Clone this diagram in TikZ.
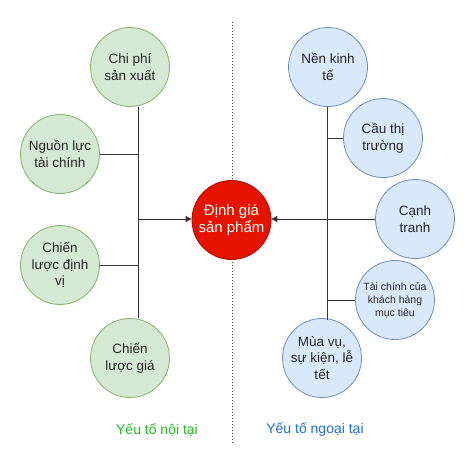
\documentclass[tikz,border=0pt]{standalone}
\usepackage{fontspec}
\setmainfont{Liberation Sans}
\usetikzlibrary{arrows.meta}
\definecolor{gfill}{HTML}{D5E8D4}
\definecolor{gdraw}{HTML}{82B366}
\definecolor{bfill}{HTML}{DAE8FC}
\definecolor{bdraw}{HTML}{6C8EBF}
\definecolor{rfill}{HTML}{E51400}
\definecolor{rdraw}{HTML}{B20000}
\definecolor{gtext}{HTML}{22BB22}
\definecolor{btext}{HTML}{1F6FCC}
\definecolor{lcol}{HTML}{333333}
\begin{document}
\begin{tikzpicture}[x=1pt,y=-1pt,
  circ/.style={circle,minimum size=79pt,inner sep=0pt,align=center,font=\fontsize{13.5}{16.5}\selectfont,text=black!85},
  gc/.style={circ,fill=gfill,draw=gdraw,line width=0.8pt},
  bc/.style={circ,fill=bfill,draw=bdraw,line width=0.8pt},
  rc/.style={circ,fill=rfill,draw=rdraw,line width=0.8pt,text=white,font=\fontsize{15}{16.5}\selectfont},
  conn/.style={draw=lcol,line width=0.9pt},
  arr/.style={conn,-{Triangle[length=6pt,width=6pt]}},
  lbl/.style={font=\fontsize{14}{16}\selectfont}]
\useasboundingbox (0,0) rectangle (474,466);
\fill[white] (0,0) rectangle (474,466);
% divider
\draw[dotted,line width=1pt,black!75] (232,22) coordinate (dtop) -- (232,445) coordinate (dbot);
% center
\node[rc] (c) at (231.5,220) {Định giá\\sản phẩm};
% left
\node[gc] (l1) at (130,67) {Chi phí\\sản xuất};
\node[gc] (l2) at (60,154) {Nguồn lực\\tài chính};
\node[gc] (l3) at (60,265) {Chiến\\lược định\\vị};
\node[gc] (l4) at (130,358) {Chiến\\lược giá};
% right
\node[bc] (r1) at (328,67) {Nền kinh\\tế};
\node[bc] (r2) at (383,138) {Cầu thị\\trường};
\node[bc] (r3) at (415,219) {Cạnh\\tranh};
\node[bc,font=\fontsize{10.5}{13}\selectfont] (r4) at (395,300) {Tài chính của\\khách hàng\\mục tiêu};
\node[bc] (r5) at (322,358) {Mùa vụ,\\sự kiện, lễ\\tết};
% left connectors
\coordinate (lt) at (138,106.5);
\coordinate (lb) at (138,319.5);
\draw[conn] (l1.south -| lt) -- (l4.north -| lb);
\draw[conn] (l2.east) -- (l2.east -| lt);
\draw[conn] (l3.east) -- (l3.east -| lt);
\coordinate (la) at (138,219);
\draw[arr] (la) -- (c.west |- la);
% right connectors
\coordinate (rt) at (327,106.5);
\coordinate (rb) at (327,319.5);
\draw[conn] (rt) -- (rb);
\draw[conn] (r2.west) -- (r2.west -| rt);
\draw[conn] (r4.west) -- (r4.west -| rt);
\draw[arr] (r3.west) -- (c.east |- r3.west);
% labels
\node[lbl,text=gtext] (tl) at (157,430) {Yếu tố nội tại};
\node[lbl,text=btext] (tr) at (315,430) {Yếu tố ngoại tại};
\end{tikzpicture}
\end{document}
